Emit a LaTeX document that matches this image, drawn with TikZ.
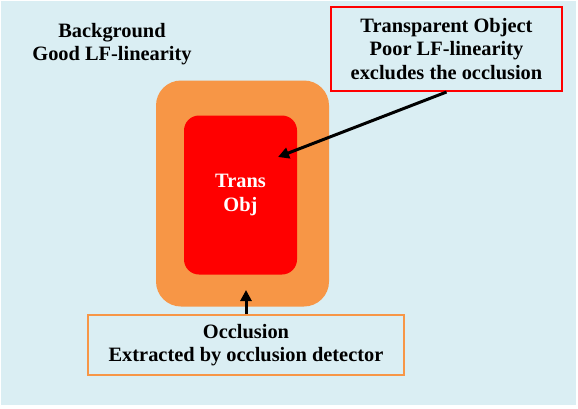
\documentclass[tikz,border=0pt]{standalone}
\usepackage{fontspec}
\setmainfont{Liberation Serif}
\usetikzlibrary{arrows.meta}
\definecolor{bgblue}{HTML}{DAEEF3}
\definecolor{orng}{HTML}{F79646}
\definecolor{redc}{HTML}{FF0000}
\tikzset{
  lbl/.style={font=\fontsize{20.4}{23.5}\selectfont\bfseries, align=center, inner sep=0pt},
  region/.style={draw=none, inner sep=0pt},
  tbox/.style={lbl, line width=2pt, fill=bgblue},
  arr/.style={line width=3pt, -{Triangle[length=11pt,width=11pt]}},
}
\begin{document}
\begin{tikzpicture}[x=1pt,y=-1pt]
\useasboundingbox (0,0) rectangle (578,408);
\fill[bgblue] (1,1) rectangle (576,405);
\node[region, fill=orng, rounded corners=25pt, minimum width=173pt, minimum height=226pt] (outer) at (242.5,193.5) {};
\node[region, fill=redc, rounded corners=15pt, minimum width=113pt, minimum height=159pt, lbl, text=white] (trans) at (240.5,195) {Trans\\Obj};
\node[lbl] (bg) at (112,44) {Background\\Good LF-linearity};
\node[tbox, draw=redc, minimum width=231pt, minimum height=84pt] (tobj) at (446.5,49) {Transparent Object\\Poor LF-linearity\\excludes the occlusion};
\node[tbox, draw=orng, minimum width=316pt, minimum height=60pt] (occ) at (246,345) {Occlusion\\Extracted by occlusion detector};
\coordinate (tip) at (278,157);
\coordinate (uptip) at (246,290);
\draw[arr] (tobj.south) -- (tip);
\draw[arr] (occ.north -| uptip) -- (uptip);
\end{tikzpicture}
\end{document}
